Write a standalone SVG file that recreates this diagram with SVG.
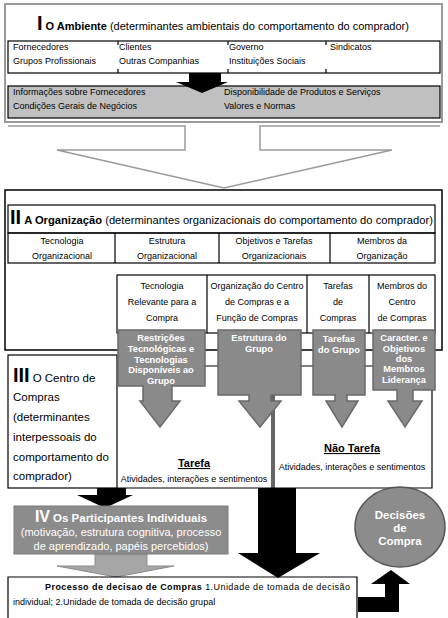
<svg xmlns="http://www.w3.org/2000/svg" width="448" height="618" viewBox="0 0 448 618">
<style>
text{font-family:"Liberation Sans",Arial,sans-serif;fill:#000}
.s{font-size:9px}
.t{font-size:11.2px}
.t1{font-size:11px}
.big{font-size:20px;font-weight:bold}
.w{fill:#fff;font-weight:bold;font-size:9.3px}
.c{text-anchor:middle}
.ln{fill:none;stroke:#000;stroke-width:1.2}
.gb{fill:#8a8a8a;stroke:#6a6a6a;stroke-width:1.5}
.wt{fill:#fff}
</style>
<rect width="448" height="618" fill="#fff"/>
<g id="ambiente">
<rect x="5" y="4" width="437" height="118" fill="#fff" stroke="#9a9a9a" stroke-width="2"/>
<text x="37" y="30"><tspan class="big">I</tspan><tspan class="t1" font-weight="bold" dx="3">O Ambiente</tspan><tspan class="t1"> (determinantes ambientais do comportamento do comprador)</tspan></text>
<rect x="8" y="41" width="432" height="32" class="ln"/>
<path d="M118,41v4M228,41v4M326,41v4M118,73v-4M228,73v-4M326,73v-4" class="ln"/>
<text class="s" x="13" y="50">Fornecedores</text>
<text class="s" x="13" y="64">Grupos Profissionais</text>
<text class="s" x="119" y="50">Clientes</text>
<text class="s" x="119" y="64">Outras Companhias</text>
<text class="s" x="229" y="50">Governo</text>
<text class="s" x="229" y="64">Instituições Sociais</text>
<text class="s" x="330" y="50">Sindicatos</text>
<rect x="8" y="86" width="432" height="32" fill="#c0c0c0" stroke="#000" stroke-width="1.2"/>
<text class="s" x="13" y="95">Informações sobre Fornecedores</text>
<text class="s" x="13" y="109">Condições Gerais de Negócios</text>
<text class="s" x="224" y="95">Disponibilidade de Produtos e Serviços</text>
<text class="s" x="224" y="109">Valores e Normas</text>
</g>
<g id="connectors">
<path d="M189,73H221V82H228L202,93L176,82H189Z" fill="#000"/>
<path d="M8,126H185V150H57L224,188L392,150H260V126H440" fill="#fff" stroke="#9a9a9a" stroke-width="1.5"/>
<path d="M97,488H126V495H133L105,508L77,495H97Z" fill="#000"/>
<path d="M258,488H296V553H320L278,578L238,553H258Z" fill="#000"/>
<path d="M95,554H147V566H174L116,577L57,566H95Z" fill="#a6a6a6" stroke="#8a8a8a"/>
<path d="M358,597H385V584H371L391,570L410,584H399V612H358Z" fill="#000"/>
</g>
<g id="organizacao">
<rect x="5" y="190" width="437" height="160" fill="#fff" stroke="#000" stroke-width="1.5"/>
<rect x="8" y="205" width="427" height="28" class="ln"/>
<text x="10" y="224"><tspan class="big">II</tspan><tspan class="t" font-weight="bold" dx="3">A Organização</tspan><tspan class="t"> (determinantes organizacionais do comportamento do comprador)</tspan></text>
<rect x="8" y="233" width="427" height="30" class="ln"/>
<path d="M115,233V263M219,233V263M330,233V263" class="ln"/>
<text class="s c" x="62" y="244">Tecnologia</text>
<text class="s c" x="62" y="259">Organizacional</text>
<text class="s c" x="167" y="244">Estrutura</text>
<text class="s c" x="167" y="259">Organizacional</text>
<text class="s c" x="274" y="244">Objetivos e Tarefas</text>
<text class="s c" x="274" y="259">Organizacionais</text>
<text class="s c" x="382" y="244">Membros da</text>
<text class="s c" x="382" y="259">Organização</text>
<rect x="117" y="275" width="318" height="58" class="ln"/>
<path d="M207,275V333M307,275V333M369,275V333" class="ln"/>
<text class="s c" x="162" y="289">Tecnologia</text>
<text class="s c" x="162" y="305">Relevante para a</text>
<text class="s c" x="162" y="321">Compra</text>
<text class="s c" x="257" y="289">Organização do Centro</text>
<text class="s c" x="257" y="305">de Compras e a</text>
<text class="s c" x="257" y="321">Função de Compras</text>
<text class="s c" x="338" y="289">Tarefas</text>
<text class="s c" x="338" y="305">de</text>
<text class="s c" x="338" y="321">Compras</text>
<text class="s c" x="402" y="289">Membros do</text>
<text class="s c" x="402" y="305">Centro</text>
<text class="s c" x="402" y="321">de Compras</text>
</g>
<g id="centro">
<rect x="8" y="355" width="109" height="133" class="ln" fill="#fff"/>
<path d="M117,366H432V488H117M272,366V488M274,366V488" class="ln"/>
<text x="13" y="382"><tspan class="big">III</tspan><tspan font-size="11.5px" dx="3">O Centro de</tspan></text>
<text x="13" y="401" font-size="11.5px">Compras</text>
<text x="13" y="421" font-size="11.5px">(determinantes</text>
<text x="13" y="441" font-size="11.5px">interpessoais do</text>
<text x="13" y="461" font-size="11.5px">comportamento do</text>
<text x="13" y="480" font-size="11.5px">comprador)</text>
<text class="c" x="194" y="467" font-size="11px" font-weight="bold" text-decoration="underline">Tarefa</text>
<text class="s c" x="194" y="482">Atividades, interações e sentimentos</text>
<text class="c" x="352" y="452" font-size="11px" font-weight="bold" text-decoration="underline">Não Tarefa</text>
<text class="s c" x="352" y="470">Atividades, interações e sentimentos</text>
</g>
<g id="g1">
<path d="M118,330H205V386H172V401H180L160,427L140,401H143V386H118Z" class="gb"/>
<text class="w c" x="161" y="341">Restrições</text>
<text class="w c" x="161" y="352">Tecnológicas e</text>
<text class="w c" x="161" y="363">Tecnologias</text>
<text class="w c" x="161" y="373">Disponíveis ao</text>
<text class="w c" x="161" y="384">Grupo</text>
</g>
<g id="g2">
<path d="M218,330H301V395H271V401H281L260,427L239,401H249V395H218Z" class="gb"/>
<text class="w c" x="259" y="341">Estrutura do</text>
<text class="w c" x="259" y="352">Grupo</text>
</g>
<g id="g3">
<path d="M313,330H365V395H347V401H358L342,427L326,401H335V395H313Z" class="gb"/>
<text class="w c" x="339" y="342">Tarefas</text>
<text class="w c" x="339" y="353">do Grupo</text>
</g>
<g id="g4">
<path d="M373,330H435V390H413V401H422L405,427L388,401H397V390H373Z" class="gb"/>
<text class="w c" x="404" y="341">Caracter. e</text>
<text class="w c" x="404" y="352">Objetivos</text>
<text class="w c" x="404" y="362">dos</text>
<text class="w c" x="404" y="372">Membros</text>
<text class="w c" x="404" y="383">Liderança</text>
</g>
<g id="participantes">
<rect x="14" y="506" width="214" height="48" fill="#8c8c8c" stroke="#7a7a7a"/>
<text class="c wt" x="121" y="522"><tspan font-size="16px" font-weight="bold" class="wt">IV</tspan><tspan font-size="11.5px" font-weight="bold" dx="3" class="wt">Os Participantes Individuais</tspan></text>
<text class="c wt" x="121" y="536" font-size="11px">(motivação, estrutura cognitiva, processo</text>
<text class="c wt" x="121" y="550" font-size="11px">de aprendizado, papéis percebidos)</text>
</g>
<g id="processo">
<path d="M8,620V577H357V620" class="ln" fill="#fff"/>
<text class="s" x="45" y="590" textLength="305" lengthAdjust="spacing"><tspan font-weight="bold">Processo de decisao de Compras</tspan> 1.Unidade de tomada de decisão</text>
<text class="s" x="13" y="605">individual; 2.Unidade de tomada de decisão grupal</text>
</g>
<g id="decisoes">
<ellipse cx="400" cy="527" rx="45" ry="40" fill="#8c8c8c" stroke="#555" stroke-width="1.5"/>
<text class="c wt" x="400" y="519" font-size="11.5px" font-weight="bold">Decisões</text>
<text class="c wt" x="400" y="532" font-size="11.5px" font-weight="bold">de</text>
<text class="c wt" x="400" y="545" font-size="11.5px" font-weight="bold">Compra</text>
</g>
</svg>
